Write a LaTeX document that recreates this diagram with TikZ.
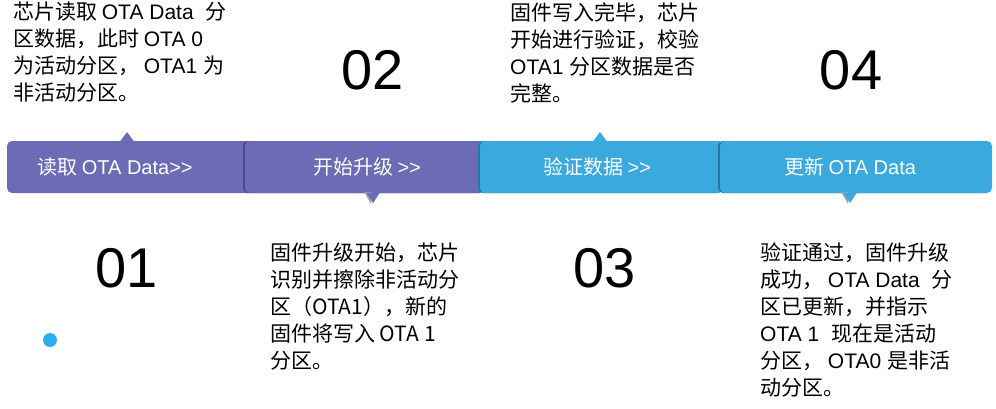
\documentclass[tikz,border=0pt]{standalone}
\usepackage{fontspec}
\setmainfont{Noto Sans CJK SC}[Ligatures=TeXOff]
\newfontfamily\lat{Liberation Sans}[Ligatures=TeXOff]
\usetikzlibrary{positioning}

\definecolor{barpurple}{HTML}{6B6BB6}
\definecolor{barblue}{HTML}{39A9DE}
\definecolor{dotblue}{HTML}{2BAEF0}

\begin{document}
\begin{tikzpicture}[x=1pt, y=-1pt,
		bar/.style={rounded corners=5pt, minimum height=52pt, inner sep=0pt},
		lbl/.style={text=white, inner sep=0pt, font=\fontsize{20}{22}\selectfont},
		note/.style={anchor=north west, align=left, inner sep=0pt, font=\fontsize{21}{27}\selectfont},
		num/.style={inner sep=0pt, font=\lat\fontsize{56}{60}\selectfont}
		]
		\useasboundingbox (0,0) rectangle (996,408);
		
		% Bars of the timeline
		\node[bar, fill=barpurple, minimum width=246pt] (b1) at (130,167) {};
		\node[bar, fill=barpurple!70!black, minimum width=240pt] (s2) at (363,167) {};
		\node[bar, fill=barpurple, minimum width=240pt] (b2) at (365,167) {};
		\node[bar, fill=barblue!70!black, minimum width=244pt] (s3) at (600,167) {};
		\node[bar, fill=barblue, minimum width=244pt] (b3) at (602,167) {};
		\node[bar, fill=barblue!70!black, minimum width=272pt] (s4) at (854,167) {};
		\node[bar, fill=barblue, minimum width=272pt] (b4) at (856,167) {};
		
		% Pointers
		\fill[barpurple] (127,132) -- (120,141.5) -- (134,141.5) -- cycle;
		\fill[black!35] (371,204) -- (364,192) -- (372,192) -- cycle;
		\fill[barpurple] (373,203) -- (366,192.5) -- (380,192.5) -- cycle;
		\fill[barblue] (600,132) -- (593,141.5) -- (607,141.5) -- cycle;
		\fill[black!35] (848,204) -- (841,192) -- (849,192) -- cycle;
		\fill[barblue] (850,203) -- (843,192.5) -- (857,192.5) -- cycle;
		
		% Bar labels
		\node[lbl] at (115,167) {读取 {\lat OTA Data>>}};
		\node[lbl] at (367,167) {开始升级 {\lat >>}};
		\node[lbl] at (597,167) {验证数据 {\lat >>}};
		\node[lbl] at (850,167) {更新 {\lat OTA Data}};
		
		% Step numbers
		\node[num] (n1) at (127,268) {01};
		\node[num] (n2) at (373,70) {02};
		\node[num] (n3) at (605,268) {03};
		\node[num] (n4) at (851,70) {04};
		
		% Step notes
		\node[note] (t1) at (13,2) {芯片读取 {\lat OTA Data\ \ }分\\区数据，此时\ {\lat OTA 0}\\为活动分区，\ {\lat OTA1 }为\\非活动分区。};
		\node[note] (t2) at (270,243) {固件升级开始，芯片\\识别并擦除非活动分\\区（OTA1），新的\\固件将写入\ OTA 1\\分区。};
		\node[note] (t3) at (510,2) {固件写入完毕，芯片\\开始进行验证，校验\\{\lat OTA1 }分区数据是否\\完整。};
		\node[note] (t4) at (760,243) {验证通过，固件升级\\成功，\ {\lat OTA Data\ \ }分\\区已更新，并指示\\{\lat OTA 1\ \ }现在是活动\\分区，\ {\lat OTA0 }是非活\\动分区。};
		
		% Dot
		\fill[dotblue] (50,340) circle (7);
	\end{tikzpicture}
\end{document}
